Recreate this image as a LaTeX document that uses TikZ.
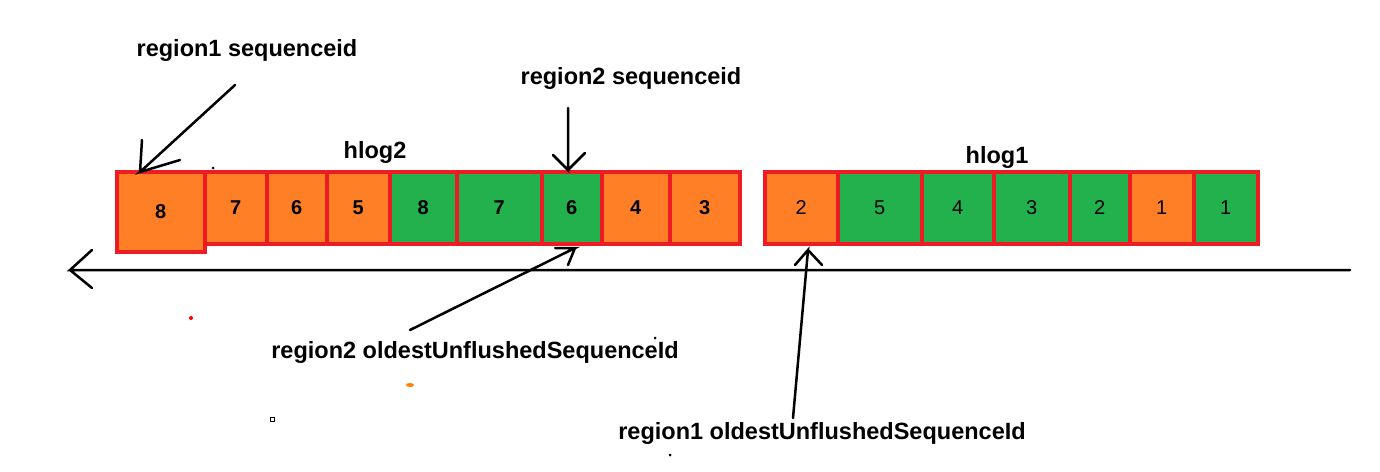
\documentclass[tikz,border=0pt]{standalone}
\usepackage{fontspec}
\setmainfont{Liberation Sans}
\begin{document}
\begin{tikzpicture}[x=1pt,y=-1pt,
  org/.style={fill={rgb,255:red,255;green,127;blue,39}},
  grn/.style={fill={rgb,255:red,34;green,177;blue,76}},
  cell/.style={draw={rgb,255:red,237;green,28;blue,36},line width=3.5pt,minimum height=72pt,inner sep=0pt,font=\fontsize{20}{22}\selectfont},
  lbl/.style={font=\bfseries\fontsize{23.5}{26}\selectfont},
  arr/.style={line width=2.5pt,line cap=round}]
\useasboundingbox (0,0) rectangle (1380,471);
\fill[white] (0,0) rectangle (1380,471);
% hlog2 cells
\foreach \a/\b/\t/\s/\n in {203/265/7/org/c2,265/325/6/org/c3,325/388/5/org/c4,388/455/8/grn/c5,455/540/7/grn/c6,540/600/6/grn/c7,600/668/4/org/c8,668/738/3/org/c9}{
  \node[cell,\s,minimum width={\b-\a},anchor=north west,font=\bfseries\fontsize{20}{22}\selectfont] (\n) at (\a,170) {\t};
}
\node[cell,org,minimum width=88pt,minimum height=80pt,anchor=north west,font=\bfseries\fontsize{20}{22}\selectfont] (c1) at (115,170) {8};
% hlog1 cells
\foreach \a/\b/\t/\s/\n in {763/836/2/org/d1,836/920/5/grn/d2,920/992/4/grn/d3,992/1068/3/grn/d4,1068/1128/2/grn/d5,1128/1192/1/org/d6,1192/1256/1/grn/d7}{
  \node[cell,\s,minimum width={\b-\a},anchor=north west] (\n) at (\a,170) {\t};
}
\node[lbl] (h2) at (375,152) {hlog2};
\node[lbl] (h1) at (997,157) {hlog1};
% timeline
\coordinate (tr) at (1350,270);
\coordinate (tl) at (70,270);
\draw[arr] (tr) -- (tl) -- (92,250) (tl) -- (92,288);
% labels
\node[lbl] (r1s) at (247,50) {region1 sequenceid};
\node[lbl] (r2s) at (631,78) {region2 sequenceid};
\node[lbl] (r2o) at (475,352) {region2 oldestUnflushedSequenceId};
\node[lbl] (r1o) at (822,433) {region1 oldestUnflushedSequenceId};
\coordinate (a1) at (140,172);
\draw[arr] (235,85) -- (a1) -- (180,160) (a1) -- (142,140);
\coordinate (a2) at (568,170);
\draw[arr] (568,108) -- (a2) -- (553,155) (a2) -- (585,153);
\coordinate (a3) at (575,248);
\draw[arr] (410,330) -- (a3) -- (555,248) (a3) -- (568,265);
\coordinate (a4) at (808,250);
\draw[arr] (793,418) -- (a4) -- (795,265) (a4) -- (822,265);
% stray marks
\fill[red] (191,318) circle (2);
\fill[orange] (410,385) ellipse (4 and 2);
\fill (655,338) circle (1.5);
\fill (670,455) circle (1.5);
\fill (213,168) circle (1.5);
\draw[line width=0.5pt] (270,417) rectangle (274,421);
\end{tikzpicture}
\end{document}
